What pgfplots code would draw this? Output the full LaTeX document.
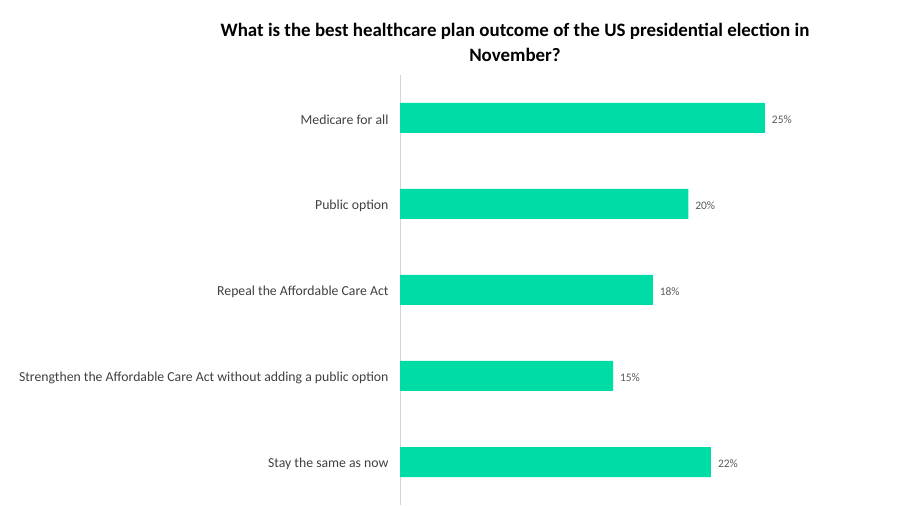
\documentclass[border=0pt]{standalone}
\usepackage{fontspec}
\setmainfont{Carlito}
\usepackage{pgfplots}
\pgfplotsset{compat=1.18}
\definecolor{barteal}{HTML}{00DCA6}
\definecolor{labelgray}{HTML}{404040}
\definecolor{valgray}{HTML}{595959}
\definecolor{axisgray}{HTML}{D4D4D4}
\begin{document}
\begin{tikzpicture}[x=1bp,y=1bp]
\path[use as bounding box] (0,0) rectangle (900,506);
\node[font=\fontsize{19}{25}\selectfont\bfseries, align=center] at (515,463.5)
  {What is the best healthcare plan outcome of the US presidential election in\\November?};
\begin{axis}[
    at={(400bp,1bp)}, anchor=south west,
    scale only axis, width=426bp, height=430bp,
    xbar, bar width=30bp,
    xmin=0, xmax=30,
    ymin=-0.5, ymax=4.5, y dir=reverse,
    axis y line=left, axis x line=none,
    y axis line style={-, draw=axisgray, line width=1bp},
    ytick={0,1,2,3,4}, major tick length=0pt,
    yticklabels={Medicare for all, Public option, Repeal the Affordable Care Act,
      Strengthen the Affordable Care Act without adding a public option, Stay the same as now},
    yticklabel style={font=\fontsize{13.8}{16}\selectfont, text=labelgray, xshift=-8bp, yshift=-1.5bp},
    /pgf/number format/assume math mode=true,
    point meta=explicit,
    nodes near coords={\pgfmathprintnumber{\pgfplotspointmeta}\%},
    every node near coord/.append style={font=\fontsize{11.5}{13}\selectfont, text=valgray, anchor=west, xshift=3.5bp, yshift=-2bp},
    clip=false,
]
\addplot[fill=barteal, draw=none] coordinates {
  (25.7,0) [25]
  (20.3,1) [20]
  (17.8,2) [18]
  (15.0,3) [15]
  (21.9,4) [22]
};
\end{axis}
\end{tikzpicture}
\end{document}
